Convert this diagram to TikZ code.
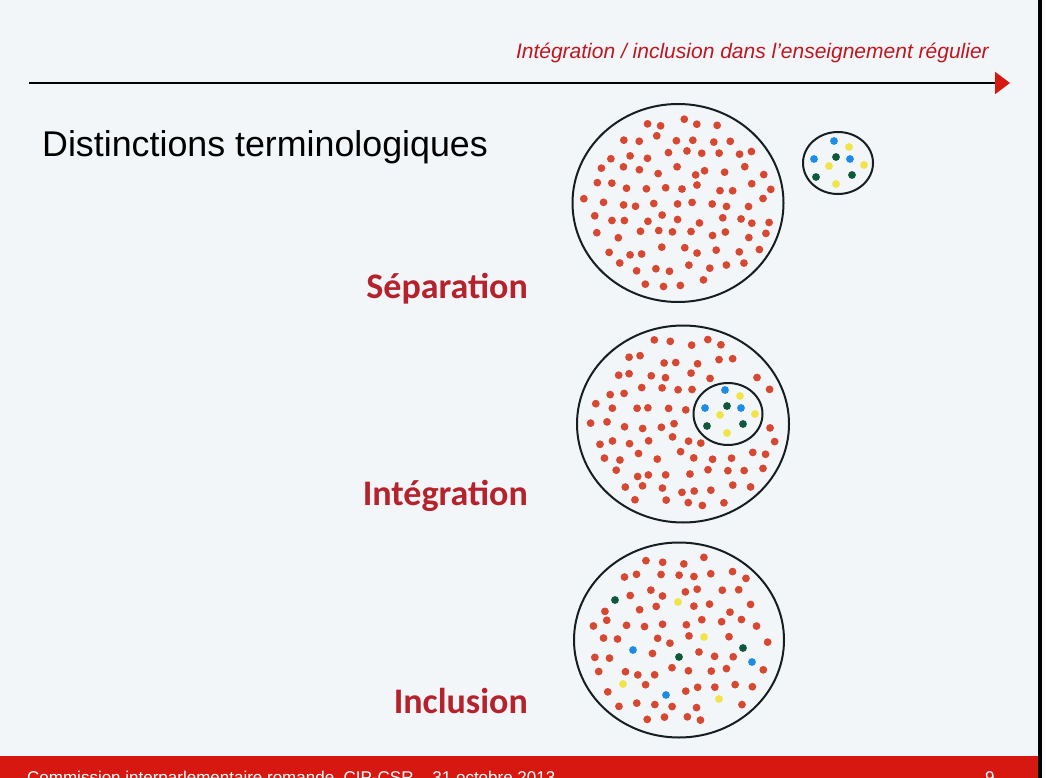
\documentclass[tikz,border=0pt]{standalone}
\usepackage{fontspec}
\setmainfont{Liberation Sans}
\newfontfamily\carlito{Carlito}
\usetikzlibrary{arrows.meta,shapes.geometric}
\definecolor{bg}{RGB}{242,246,248}
\definecolor{dotred}{RGB}{214,72,50}
\definecolor{dotblue}{RGB}{30,140,228}
\definecolor{dotgreen}{RGB}{14,88,60}
\definecolor{dotyellow}{RGB}{240,228,72}
\definecolor{titlered}{RGB}{182,34,44}
\definecolor{headred}{RGB}{192,22,32}
\definecolor{footred}{RGB}{214,24,16}
\definecolor{inkline}{RGB}{22,30,34}
\tikzset{
  ring/.style={draw=inkline, line width=2pt, ellipse, inner sep=0pt},
  reddot/.style={fill=dotred},
  bdot/.style={fill=dotblue},
  gdot/.style={fill=dotgreen},
  ydot/.style={fill=dotyellow},
  termlabel/.style={font=\carlito\bfseries\fontsize{36}{40}\selectfont, text=titlered, anchor=base east, inner sep=0pt},
}
\newcommand\dotr{3.9pt}
\newcommand\dotfield[4]{%
  \pgfmathsetseed{#3}%
  \foreach \j in {-6,...,6}{\foreach \i in {-6,...,6}{%
    \pgfmathsetmacro\px{#1+\i*18+abs(mod(\j,2))*9-4.5+5*rand}%
    \pgfmathsetmacro\py{#2+\j*16+4.5*rand}%
    \pgfmathsetmacro\keep{((((\px-#1)/96)*((\px-#1)/96)+((\py-#2)/89)*((\py-#2)/89))<1) && (#4)}%
    \ifdim\keep pt>0.5pt \fill[reddot] (\px,\py) circle[radius=\dotr];\fi
  }}%
}
\newcommand\colorcluster[2]{% offsets relative to cluster centre
  \begin{scope}[shift={(#1,#2)}]
    \fill[bdot] (-4,-22) circle[radius=\dotr];
    \fill[bdot] (-24,-4) circle[radius=\dotr];
    \fill[bdot] (12,-4) circle[radius=\dotr];
    \fill[gdot] (-2,-6) circle[radius=\dotr];
    \fill[gdot] (-22,14) circle[radius=\dotr];
    \fill[gdot] (14,12) circle[radius=\dotr];
    \fill[ydot] (11,-16) circle[radius=\dotr];
    \fill[ydot] (-9,3) circle[radius=\dotr];
    \fill[ydot] (26,2) circle[radius=\dotr];
    \fill[ydot] (-2,21) circle[radius=\dotr];
  \end{scope}
}
\begin{document}
\begin{tikzpicture}[x=1pt,y=-1pt]
\useasboundingbox (0,0) rectangle (1046,778);
\clip (0,0) rectangle (1046,778);
\fill[bg] (0,0) rectangle (1046,778);
\fill[white!60!bg] (1040,0) rectangle (1046,778);
% footer
\fill[footred] (0,756) rectangle (1038,778);
\node[anchor=base west, inner sep=0pt, text=white, font=\fontsize{17}{20}\selectfont] (foot) at (27,783) {Commission interparlementaire romande, CIP-CSR – 31 octobre 2013};
\node[anchor=base west, inner sep=0pt, text=white, font=\fontsize{17}{20}\selectfont] (pagenum) at (985,783) {9};
% right border
\draw[black, line width=4pt] (1040,0) -- (1040,778);
% header
\node[anchor=base east, inner sep=0pt, text=headred, font=\itshape\fontsize{21}{24}\selectfont] (head) at (989,59) {Intégration / inclusion dans l’enseignement régulier};
\coordinate (lineA) at (29,83);
\coordinate (lineB) at (1010,83);
\draw[black, line width=2.2pt, -{Triangle[length=15pt,width=22pt,color=footred]}] (lineA) -- (lineB);
% title
\node[anchor=base west, inner sep=0pt, font=\fontsize{35.8}{40}\selectfont] (title) at (42,157) {Distinctions terminologiques};
% Separation
\node[ring, minimum width=211pt, minimum height=198pt] (c1) at (678,203) {};
\dotfield{678}{203}{11}{1}
\node[ring, minimum width=70pt, minimum height=62pt] (s1) at (838,163) {};
\colorcluster{838}{163}
\node[termlabel] (lsep) at (528,298) {Séparation};
% Integration
\node[ring, minimum width=212pt, minimum height=197pt] (c2) at (683,424) {};
\dotfield{683}{424}{23}{(((\px-728)/42)*((\px-728)/42)+((\py-414)/38)*((\py-414)/38))>1}
\node[ring, fill=bg, minimum width=69pt, minimum height=62pt] (s2) at (728,414) {};
\colorcluster{729}{412}
\node[termlabel] (lint) at (528,505) {Intégration};
% Inclusion
\node[ring, minimum width=210pt, minimum height=195pt] (c3) at (679,640) {};
\dotfield{679}{640}{37}{min(veclen(\px-615,\py-600),veclen(\px-679,\py-657),veclen(\px-743,\py-648),veclen(\px-633,\py-650),veclen(\px-752,\py-662),veclen(\px-666,\py-695),veclen(\px-678,\py-602),veclen(\px-704,\py-637),veclen(\px-623,\py-684),veclen(\px-719,\py-699))>11}
\fill[gdot] (615,600) circle[radius=\dotr];
\fill[gdot] (679,657) circle[radius=\dotr];
\fill[gdot] (743,648) circle[radius=\dotr];
\fill[bdot] (633,650) circle[radius=\dotr];
\fill[bdot] (752,662) circle[radius=\dotr];
\fill[bdot] (666,695) circle[radius=\dotr];
\fill[ydot] (678,602) circle[radius=\dotr];
\fill[ydot] (704,637) circle[radius=\dotr];
\fill[ydot] (623,684) circle[radius=\dotr];
\fill[ydot] (719,699) circle[radius=\dotr];
\node[termlabel] (linc) at (528,713) {Inclusion};
\end{tikzpicture}
\end{document}
